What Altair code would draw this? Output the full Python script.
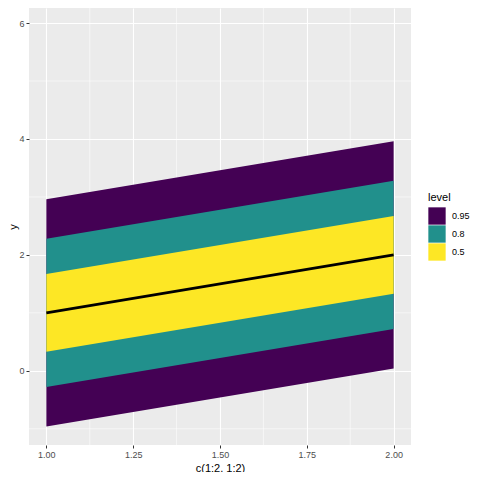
import altair as alt
import pandas as pd

# fitted line and the half-widths of the three bands
x_vals = [1, 2]
fit_vals = [1, 2]
levels = ["0.95", "0.8", "0.5"]
half_widths = [1.96, 1.28, 0.67]
colors = ["#440154", "#21908C", "#FDE725"]

x_ticks = [1.0, 1.25, 1.5, 1.75, 2.0]
x_minor = [1.125, 1.375, 1.625, 1.875]
y_ticks = [0, 2, 4, 6]
y_minor = [-1, 1, 3, 5]

rows = []
for lev, hw in zip(levels, half_widths):
    for x, f in zip(x_vals, fit_vals):
        rows.append({"x": x, "level": lev, "lo": f - hw, "hi": f + hw})
bands = pd.DataFrame(rows)
line_df = pd.DataFrame({"x": x_vals, "y": fit_vals})

xs = alt.Scale(domain=[0.95, 2.05], nice=False, zero=False)
ys = alt.Scale(domain=[-1.28, 6.26], nice=False, zero=False)

x_axis = alt.Axis(values=x_ticks, format=".2f", title="c(1:2, 1:2)", titlePadding=3)
y_axis = alt.Axis(values=y_ticks, format="d", title="y", titlePadding=0)

minor_v = (
    alt.Chart(pd.DataFrame({"x": x_minor}))
    .mark_rule(color="white", strokeWidth=0.55)
    .encode(x=alt.X("x:Q", scale=xs, axis=x_axis))
)
minor_h = (
    alt.Chart(pd.DataFrame({"y": y_minor}))
    .mark_rule(color="white", strokeWidth=0.55)
    .encode(y=alt.Y("y:Q", scale=ys, axis=y_axis))
)

fill = alt.Fill(
    "level:N",
    scale=alt.Scale(domain=levels, range=colors),
    legend=alt.Legend(
        title="level",
        orient="none",
        legendX=399,
        legendY=184,
        symbolType="square",
        symbolSize=300,
        symbolStrokeWidth=0,
        symbolOpacity=1,
        rowPadding=0,
        labelOffset=6,
        titlePadding=4,
    ),
)

band_layers = []
for lev in levels:
    band_layers.append(
        alt.Chart(bands)
        .transform_filter(alt.datum.level == lev)
        .mark_area(opacity=1)
        .encode(
            x=alt.X("x:Q", scale=xs, axis=x_axis),
            y=alt.Y("lo:Q", scale=ys, axis=y_axis),
            y2="hi:Q",
            fill=fill,
        )
    )

fit_line = (
    alt.Chart(line_df)
    .mark_line(color="black", strokeWidth=2.6)
    .encode(x=alt.X("x:Q", scale=xs, axis=x_axis), y=alt.Y("y:Q", scale=ys, axis=y_axis))
)

chart = (
    alt.layer(minor_v, minor_h, *band_layers, fit_line)
    .properties(
        width=382,
        height=437,
        autosize=alt.AutoSizeParams(type="none"),
        padding={"left": 21, "top": 0, "right": 61, "bottom": 27},
    )
    .configure_view(fill="#EBEBEB", strokeWidth=0)
    .configure_axis(
        grid=True,
        gridColor="white",
        gridWidth=1.1,
        domain=False,
        tickColor="#333333",
        tickSize=3,
        labelColor="#4D4D4D",
        labelFontSize=9,
        labelFont="Liberation Sans",
        labelPadding=2,
        titleFont="Liberation Sans",
        titleFontSize=11,
        titleFontWeight="normal",
        titleColor="black",
    )
    .configure_legend(
        titleFont="Liberation Sans",
        titleFontSize=11,
        titleFontWeight="normal",
        titleColor="black",
        labelFont="Liberation Sans",
        labelFontSize=9,
        labelColor="black",
    )
)

chart.save("out.html", embed_options={"renderer": "svg", "actions": False})
